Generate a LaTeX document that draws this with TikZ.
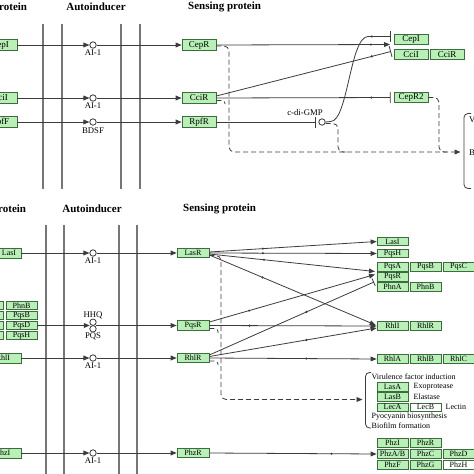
\documentclass[tikz,border=0pt]{standalone}
\usepackage{fontspec}
\setmainfont{Liberation Serif}
\usetikzlibrary{arrows.meta}
\definecolor{kfill}{RGB}{184,240,184}
\definecolor{kdraw}{RGB}{60,110,60}
\definecolor{kline}{RGB}{60,60,60}
\definecolor{kgray}{RGB}{118,118,118}
\tikzset{
 gbox/.style={draw=kdraw, fill=kfill, line width=0.7pt, minimum width=34pt, minimum height=10.5pt, inner sep=0pt, font=\fontsize{9}{10}\selectfont},
 sbox/.style={gbox, minimum width=31pt, minimum height=8.6pt, font=\fontsize{8}{9}\selectfont},
 wbox/.style={sbox, fill=white},
 conn/.style={draw=kline, line width=0.8pt},
 act/.style={conn, -{Triangle[length=6pt,width=4.8pt]}},
 inh/.style={conn, -{Bar[width=11pt]}},
 sinh/.style={conn, -{Bar[width=8pt]}},
 dsh/.style={conn, dash pattern=on 5pt off 3pt},
 cmp/.style={circle, draw=kline, fill=white, line width=0.8pt, minimum size=6.4pt, inner sep=0pt},
 dotn/.style={circle, fill=kline, minimum size=2.4pt, inner sep=0pt},
 vline/.style={draw=kgray, line width=2.6pt},
 hdr/.style={font=\fontsize{11}{12}\selectfont\bfseries, inner sep=0pt},
 lbl/.style={font=\fontsize{8.7}{9}\selectfont, inner sep=0pt},
 slbl/.style={font=\fontsize{8}{9}\selectfont, anchor=west, inner sep=0pt},
}
\begin{document}
\begin{tikzpicture}[x=1pt,y=-1pt]
\useasboundingbox (0,0) rectangle (474,474);
\clip (0,0) rectangle (474,474);
\fill[white] (0,0) rectangle (474,474);
% membranes
\foreach \x in {43,62,121,140} \draw[vline] (\x,24) -- (\x,189);
\foreach \x in {46,64,119,137} \draw[vline] (\x,225) -- (\x,476);
% headers
\node[hdr, anchor=west] (h1) at (-1,6.5) {rotein};
\node[hdr] (h2) at (96,6.5) {Autoinducer};
\node[hdr, anchor=west] (h3) at (188,6.5) {Sensing protein};
\node[hdr, anchor=west] (h4) at (-2,209) {rotein};
\node[hdr] (h5) at (92,209) {Autoinducer};
\node[hdr, anchor=west] (h6) at (183,209) {Sensing protein};

% ---------- top panel ----------
\node[gbox] (cepI) at (0,45) {CepI};
\node[gbox] (cciI) at (0,98) {CciI};
\node[gbox] (rpfF) at (0,122) {RpfF};
\node[cmp] (ai1) at (93,45) {};
\node[cmp] (ai2) at (93,98) {};
\node[cmp] (bdsf) at (93,122) {};
\node[lbl] (ai1l) at (93,52.8) {AI-1};
\node[lbl] (ai2l) at (93,105.5) {AI-1};
\node[lbl] (bdsfl) at (93,131) {BDSF};
\node[gbox] (cepR) at (199,45) {CepR};
\node[gbox] (cciR) at (199,98) {CciR};
\node[gbox] (rpfR) at (199,122) {RpfR};
\node[gbox] (cepIt) at (411,39.5) {CepI};
\node[gbox] (cciIt) at (411,54.5) {CciI};
\node[gbox] (cciRt) at (447,54.5) {CciR};
\node[gbox] (cepR2) at (411,97.5) {CepR2};
\node[cmp] (cdg) at (322,122) {};
\node[lbl] (cdgl) at (305,113) {c-di-GMP};
\node[lbl, anchor=west] (vt) at (469,120) {V};
\node[lbl, anchor=west] (bt) at (469,153) {B};
\coordinate (cepIn) at (390,44.5);
\coordinate (cepBar) at (391,36.5);
\coordinate (cciBar) at (391,51.5);
\coordinate (brT) at (460.5,152);

\draw[act] (cepI) -- (ai1);
\draw[act] (ai1) -- (cepR);
\draw[act] (cciI) -- (ai2);
\draw[act] (ai2) -- (cciR);
\draw[act] (rpfF) -- (bdsf);
\draw[act] (bdsf) -- (rpfR);

\draw[act] (cepR.east) -- node[dotn,pos=0.89]{} (cepIn);
\draw[inh] ([yshift=2pt]cciR.east) -- node[dotn,pos=0.89]{} (cciBar);
\draw[inh] (cciR.east) -- node[dotn,pos=0.89]{} ([xshift=-3pt]cepR2.west);
\draw[inh] (rpfR.east) -- ([xshift=-3pt]cdg.west);
\draw[inh] (cdg.east) -- (331,121.5) .. controls (348,120) and (350,37) .. (368,36.5) -- node[dotn,pos=0.17]{} (cepBar);

\draw[dsh, -{Triangle[length=6pt,width=4.8pt]}, rounded corners=5pt] ([yshift=-1pt]cepR.east) -- (229,46) -- (229,152) -- (brT);
\draw[dsh, rounded corners=3pt] ([yshift=-2.5pt]cciR.east) -- (225,100.5) -- (225,104);
\draw[dsh, rounded corners=5pt] ([yshift=-1.5pt]cdg.east) -- (338,123.5) -- (338,152) -- (346,152);
\draw[dsh, rounded corners=5pt] (cepR2.east) -- (439,97.5) -- (439,152) -- (447,152);
\draw[conn, rounded corners=4pt] (471,113.5) -- (464,113.5) -- (464,188.5) -- (471,188.5);

% ---------- bottom panel ----------
\node[sbox, minimum width=24pt, minimum height=10pt] (lasI) at (9,253) {LasI};
\node[sbox, minimum width=36pt, minimum height=10pt] (rhlI) at (3,358) {RhlI};
\node[sbox, minimum width=36pt, minimum height=10pt] (phzI) at (3,453) {PhzI};
\node[sbox] (phnBl) at (21.5,305.5) {PhnB};
\node[sbox] (pqsBl) at (21.5,315.5) {PqsB};
\node[sbox] (pqsDl) at (21.5,325.5) {PqsD};
\node[sbox] (pqsHl) at (21.5,335.5) {PqsH};
\node[sbox] (s1) at (-12,305.5) {};
\node[sbox] (s2) at (-12,315.5) {};
\node[sbox] (s3) at (-12,325.5) {};
\node[sbox] (s4) at (-12,335.5) {};

\node[cmp] (bai1) at (93,253) {};
\node[cmp] (hhq) at (93,322.2) {};
\node[cmp] (pqs) at (93,328.8) {};
\node[cmp] (bai2) at (93,358) {};
\node[cmp] (bai3) at (93,453) {};
\node[lbl] (bai1l) at (93,260.5) {AI-1};
\node[lbl] (hhql) at (93,315.2) {HHQ};
\node[lbl] (pqsl) at (93,336) {PQS};
\node[lbl] (bai2l) at (93,365.5) {AI-1};
\node[lbl] (bai3l) at (93,461) {AI-1};
\coordinate (pqIn) at (89.8,325.5);
\coordinate (pqOut) at (96.2,325.5);

\node[sbox, minimum width=32pt, minimum height=9.5pt] (lasR) at (193,253) {LasR};
\node[sbox, minimum width=32pt, minimum height=9.5pt] (pqsR) at (193,325.5) {PqsR};
\node[sbox, minimum width=32pt, minimum height=9.5pt] (rhlR) at (193,358) {RhlR};
\node[sbox, minimum width=32pt, minimum height=9.5pt] (phzR) at (193,453) {PhzR};

\node[sbox] (lasIt) at (392.5,241.5) {LasI};
\node[sbox] (pqsHt) at (392.5,253.5) {PqsH};
\node[sbox] (pqsAt) at (392.5,267) {PqsA};
\node[sbox] (pqsBt) at (425.5,267) {PqsB};
\node[sbox] (pqsCt) at (458.5,267) {PqsC};
\node[sbox] (pqsRt) at (392.5,277) {PqsR};
\node[sbox] (phnAt) at (392.5,287) {PhnA};
\node[sbox] (phnBt) at (425.5,287) {PhnB};
\node[sbox] (rhlIt) at (392.5,326) {RhlI};
\node[sbox] (rhlRt) at (425.5,326) {RhlR};
\node[sbox] (rhlAt) at (392.5,359) {RhlA};
\node[sbox] (rhlBt) at (425.5,359) {RhlB};
\node[sbox] (rhlCt) at (458.5,359) {RhlC};
\node[slbl] (vfi) at (371.5,377) {Virulence factor induction};
\node[sbox] (lasAt) at (392.5,387) {LasA};
\node[slbl] (exo) at (413.5,387) {Exoprotease};
\node[sbox] (lasBt) at (392.5,397) {LasB};
\node[slbl] (ela) at (413.5,397) {Elastase};
\node[sbox] (lecAt) at (392.5,407.3) {LecA};
\node[wbox] (lecBt) at (425.5,407.3) {LecB};
\node[slbl] (lec) at (445.5,407.3) {Lectin};
\node[slbl] (pyo) at (371.5,417) {Pyocyanin biosynthesis};
\node[slbl] (bio) at (371.5,425.5) {Biofilm formation};
\node[sbox] (phzIt) at (392.5,443) {PhzI};
\node[sbox] (phzRt) at (425.5,443) {PhzR};
\node[sbox] (phzABt) at (392.5,454) {PhzA/B};
\node[sbox] (phzCt) at (425.5,454) {PhzC};
\node[sbox] (phzDt) at (458.5,454) {PhzD};
\node[sbox] (phzFt) at (392.5,464.8) {PhzF};
\node[sbox] (phzGt) at (425.5,464.8) {PhzG};
\node[wbox] (phzHt) at (458.5,464.8) {PhzH};

\coordinate (lasIn) at (375,271.5);
\coordinate (pqsIn) at (375,274.5);
\coordinate (pqsBar) at (374,282);
\coordinate (brB) at (362.5,399.5);

\draw[act] (lasI) -- (bai1);
\draw[act] (bai1) -- (lasR);
\draw[act] (pqsDl.east) -- (pqIn);
\draw[act] (pqOut) -- (pqsR.west);
\draw[act] (rhlI) -- (bai2);
\draw[act] (bai2) -- (rhlR);
\draw[act] (phzI) -- (bai3);
\draw[act] (bai3) -- (phzR);

\draw[act] ([yshift=1pt]lasR.east) -- node[dotn,pos=0.32]{} (lasIt.west);
\draw[act] (lasR.east) -- node[dotn,pos=0.32]{} (pqsHt.west);
\draw[act] ([yshift=-1pt]lasR.east) -- node[dotn,pos=0.33]{} (lasIn);
\draw[act] ([yshift=-2pt]lasR.east) -- node[dotn,pos=0.32]{} ([xshift=-1pt,yshift=1pt]rhlIt.west);
\draw[act] ([yshift=3.5pt]pqsR.east) -- node[dotn,pos=0.24]{} (pqsIn);
\draw[act] (pqsR.east) -- node[dotn,pos=0.24]{} (rhlIt.west);
\draw[sinh] ([yshift=3pt]rhlR.east) -- node[dotn,pos=0.59]{} (pqsBar);
\draw[act] ([yshift=1.5pt]rhlR.east) -- node[dotn,pos=0.58]{} ([yshift=-2pt]rhlIt.west);
\draw[act] (rhlR.east) -- node[dotn,pos=0.58]{} (rhlAt.west);
\draw[act] (phzR.east) -- node[dotn,pos=0.73]{} (phzABt.west);

\draw[dsh, -{Triangle[length=6pt,width=4.8pt]}, rounded corners=5pt] ([yshift=-2.5pt]lasR.east) -- (221,255.5) -- (221,399.5) -- (brB);
\draw[dsh, rounded corners=3pt] ([yshift=-3pt]pqsR.east) -- (218,328.5) -- (218,333);
\draw[dsh, rounded corners=3pt] ([yshift=-3pt]rhlR.east) -- (218,361) -- (218,365);
\draw[conn, rounded corners=4pt] (371,372.5) -- (365.5,372.5) -- (365.5,428) -- (371,428);
\end{tikzpicture}
\end{document}
